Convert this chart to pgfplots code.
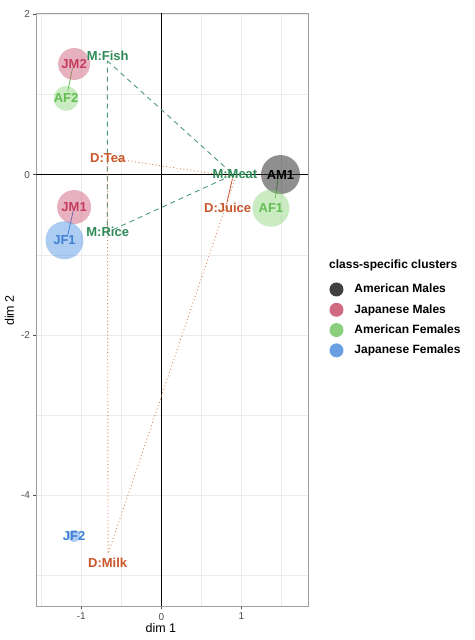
\documentclass[border=0pt]{standalone}
\usepackage{pgfplots}
\pgfplotsset{compat=1.18}
\usepackage{fontspec}
\setmainfont{Liberation Sans}
\definecolor{mgreen}{HTML}{2E8B57}
\definecolor{mline}{HTML}{4E9A78}
\definecolor{dorange}{HTML}{C8562A}
\definecolor{dline}{HTML}{D9835A}
\definecolor{amc}{HTML}{333333}
\definecolor{jmc}{HTML}{C8466A}
\definecolor{afc}{HTML}{7CCF6A}
\definecolor{jfc}{HTML}{4A8EE0}
\definecolor{amt}{HTML}{000000}
\definecolor{jmt}{HTML}{C43C5C}
\definecolor{aft}{HTML}{62BE50}
\definecolor{jft}{HTML}{3D80D6}
\definecolor{gridc}{HTML}{EBEBEB}
\definecolor{tickc}{HTML}{4D4D4D}
\definecolor{lgam}{HTML}{404040}
\definecolor{lgjm}{HTML}{D06A80}
\definecolor{lgaf}{HTML}{8AD07C}
\definecolor{lgjf}{HTML}{6A9FE2}
\pgfplotsset{circ/.style={only marks, mark=*, draw=none, mark options={draw=none, draw opacity=0, line width=0pt}}}
\begin{document}
\begin{tikzpicture}
\useasboundingbox (0,0) rectangle (474pt,640pt);
\begin{axis}[
  at={(36.5pt,33.5pt)}, anchor=south west,
  scale only axis, width=271.6pt, height=593pt,
  xmin=-1.56, xmax=1.835, ymin=-5.39, ymax=2.01,
  xtick={-1,0,1}, ytick={-4,-2,0,2},
  minor xtick={-1.5,-0.5,0.5,1.5}, minor ytick={-5,-3,-1,1},
  grid=both,
  major grid style={gridc, line width=0.6pt},
  minor grid style={gridc, line width=0.4pt},
  minor tick length=0pt,
  tick align=outside, major tick length=3pt,
  xtick pos=bottom, ytick pos=left,
  tick style={tickc, line width=0.6pt},
  axis line style={draw=gray!75, line width=0.7pt},
  /pgf/number format/assume math mode=true,
  ticklabel style={font=\fontsize{10}{12}\selectfont, text=tickc},
  xlabel={dim 1}, ylabel={dim 2},
  label style={font=\fontsize{12.5}{14}\selectfont},
  xlabel style={at={(axis description cs:0.458,-0.037)}, anchor=center},
  ylabel style={at={(axis description cs:-0.1,0.499)}, anchor=center, rotate=0},
  clip=false,
  legend style={at={(axis description cs:1.078,0.548)}, anchor=north west,
    draw=none, fill=none, font=\bfseries\fontsize{12}{14}\selectfont,
    row sep=4.8pt, inner sep=0pt,
    /tikz/every odd column/.append style={column sep=9pt},
    nodes={inner sep=2pt, text height=9pt, text depth=2.5pt}},
  legend cell align=left,
]
% zero lines
\addplot[black, line width=1.3pt, forget plot] coordinates {(-1.56,0) (1.835,0)};
\addplot[black, line width=1.3pt, forget plot] coordinates {(0,-5.39) (0,2.01)};
% meal triangle (dashed)
\addplot[mline, line width=0.9pt, dash pattern=on 5pt off 4pt, forget plot] coordinates {
(-0.675,1.42) (0.9,0.0) (-0.675,-0.72) (-0.675,1.42)};
% drink triangle (dotted)
\addplot[dline, line width=0.9pt, dash pattern=on 0.9pt off 2.6pt, forget plot] coordinates {
(-0.675,0.21) (0.93,-0.03) (-0.665,-4.73) (-0.675,0.21)};
% label segments
\addplot[dorange, line width=0.8pt, forget plot] coordinates {(0.89,-0.05) (0.82,-0.35)};
\addplot[aft, line width=0.8pt, forget plot] coordinates {(-1.11,1.33) (-1.17,1.04)};
\addplot[jft, line width=0.8pt, forget plot] coordinates {(-1.10,-0.45) (-1.17,-0.76)};
\addplot[aft, line width=0.8pt, forget plot] coordinates {(1.46,-0.05) (1.425,-0.29)};
% cluster circles
\addplot[circ, mark size=19.5pt, fill=amc, fill opacity=0.55, forget plot] coordinates {(1.49,0.0)};
\addplot[circ, mark size=18.5pt, fill=afc, fill opacity=0.4, forget plot] coordinates {(1.37,-0.42)};
\addplot[circ, mark size=16pt, fill=jmc, fill opacity=0.42, forget plot] coordinates {(-1.09,1.38)};
\addplot[circ, mark size=12.5pt, fill=afc, fill opacity=0.4, forget plot] coordinates {(-1.19,0.95)};
\addplot[circ, mark size=17pt, fill=jmc, fill opacity=0.42, forget plot] coordinates {(-1.09,-0.405)};
\addplot[circ, mark size=19pt, fill=jfc, fill opacity=0.45, forget plot] coordinates {(-1.21,-0.82)};
\addplot[circ, mark size=6pt, fill=jfc, fill opacity=0.45, forget plot] coordinates {(-1.09,-4.51)};
% labels: variables
\addplot[only marks, mark=*, mark size=0.01pt, mark options={draw=none, fill=none}, forget plot,
  nodes near coords, point meta=explicit symbolic,
  nodes near coords style={anchor=center, inner sep=0pt, text=mgreen, font=\bfseries\fontsize{13}{13}\selectfont}]
  table[meta=label] {
x y label
-0.67 1.48 M:Fish
0.92 0.0 M:Meat
-0.67 -0.72 M:Rice
};
\addplot[only marks, mark=*, mark size=0.01pt, mark options={draw=none, fill=none}, forget plot,
  nodes near coords, point meta=explicit symbolic,
  nodes near coords style={anchor=center, inner sep=0pt, text=dorange, font=\bfseries\fontsize{13}{13}\selectfont}]
  table[meta=label] {
x y label
-0.67 0.20 D:Tea
0.83 -0.42 D:Juice
-0.67 -4.85 D:Milk
};
% labels: clusters
\addplot[only marks, mark=*, mark size=0.01pt, mark options={draw=none, fill=none}, forget plot,
  nodes near coords, point meta=explicit symbolic,
  nodes near coords style={anchor=center, inner sep=0pt, text=amt, font=\bfseries\fontsize{13}{13}\selectfont}]
  table[meta=label] {
x y label
1.49 0.0 AM1
};
\addplot[only marks, mark=*, mark size=0.01pt, mark options={draw=none, fill=none}, forget plot,
  nodes near coords, point meta=explicit symbolic,
  nodes near coords style={anchor=center, inner sep=0pt, text=jmt, font=\bfseries\fontsize{13}{13}\selectfont}]
  table[meta=label] {
x y label
-1.09 1.38 JM2
-1.09 -0.405 JM1
};
\addplot[only marks, mark=*, mark size=0.01pt, mark options={draw=none, fill=none}, forget plot,
  nodes near coords, point meta=explicit symbolic,
  nodes near coords style={anchor=center, inner sep=0pt, text=aft, font=\bfseries\fontsize{13}{13}\selectfont}]
  table[meta=label] {
x y label
1.37 -0.42 AF1
-1.19 0.95 AF2
};
\addplot[only marks, mark=*, mark size=0.01pt, mark options={draw=none, fill=none}, forget plot,
  nodes near coords, point meta=explicit symbolic,
  nodes near coords style={anchor=center, inner sep=0pt, text=jft, font=\bfseries\fontsize{13}{13}\selectfont}]
  table[meta=label] {
x y label
-1.21 -0.82 JF1
-1.09 -4.51 JF2
};
% legend
\addlegendimage{circ, mark size=7pt, fill=lgam}
\addlegendentry{American Males}
\addlegendimage{circ, mark size=7pt, fill=lgjm}
\addlegendentry{Japanese Males}
\addlegendimage{circ, mark size=7pt, fill=lgaf}
\addlegendentry{American Females}
\addlegendimage{circ, mark size=7pt, fill=lgjf}
\addlegendentry{Japanese Females}
\node[anchor=west, inner sep=0pt, font=\bfseries\fontsize{12}{14}\selectfont] at (axis description cs:1.077,0.575) {class-specific clusters};
\end{axis}
\end{tikzpicture}
\end{document}
